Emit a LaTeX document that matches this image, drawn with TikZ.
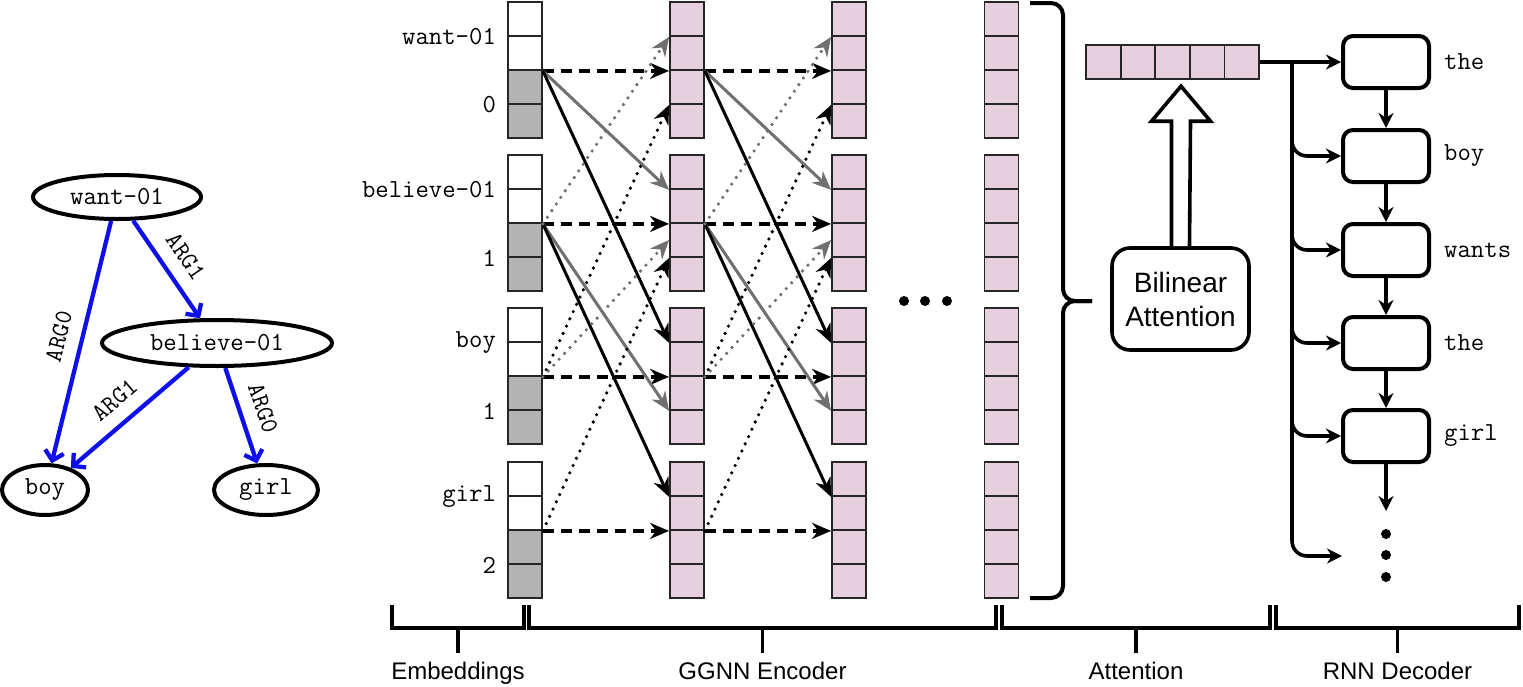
\documentclass[tikz,border=0pt]{standalone}
\usepackage{fontspec}
\setmainfont{Liberation Sans}
\usetikzlibrary{positioning, arrows.meta, shapes.geometric}

\definecolor{cellpink}{RGB}{230,208,222}
\definecolor{cellgray}{RGB}{179,179,179}
\definecolor{argblue}{RGB}{15,15,235}
\definecolor{revgray}{RGB}{112,112,112}

\begin{document}
\begin{tikzpicture}[x=1pt, y=-1pt, >={Stealth[length=19pt,width=16pt]}, on grid]
    \tikzstyle{amr}=[ellipse, draw, line width=4pt, inner sep=0pt, font=\fontsize{26}{30}\selectfont\ttfamily]
    \tikzstyle{rel}=[-{Straight Barb[length=9pt,width=19pt]}, draw=argblue, line width=4.3pt]
    \tikzstyle{arg}=[sloped, above, inner xsep=1pt, inner ysep=13pt, text=black, font=\fontsize{25}{29}\selectfont\ttfamily]
    \tikzstyle{cell}=[draw=black!85, line width=1.8pt, minimum width=34pt, minimum height=34pt, inner sep=0pt, fill=cellpink]
    \tikzstyle{word}=[inner sep=2pt, font=\fontsize{26}{30}\selectfont\ttfamily]
    \tikzstyle{selfedge}=[->, line width=3.3pt, dash pattern=on 11pt off 7pt]
    \tikzstyle{fwdzero}=[->, line width=3pt]
    \tikzstyle{fwdone}=[->, line width=3pt, revgray]
    \tikzstyle{revzero}=[->, line width=3.6pt, line cap=round, dash pattern=on 0pt off 8pt]
    \tikzstyle{revone}=[revzero, revgray]
    \tikzstyle{dec}=[draw, line width=4pt, rounded corners=10pt, minimum width=86pt, minimum height=52pt]
    \tikzstyle{decedge}=[-{Stealth[length=15pt,width=15pt]}, line width=3.6pt]
    \tikzstyle{bracket}=[line width=3.6pt]
    \tikzstyle{partlabel}=[anchor=base, font=\fontsize{24}{29}\selectfont]

    \useasboundingbox (0,0) rectangle (1523,686);

    % AMR graph
    \node[amr, minimum width=168pt, minimum height=44pt] (want) at (117,197) {want-01};
    \node[amr, minimum width=230pt, minimum height=46pt, below right=146pt and 100pt of want] (believe) {believe-01};
    \node[amr, minimum width=86pt, minimum height=50pt, below left=147pt and 172pt of believe] (boy) {boy};
    \node[amr, minimum width=104pt, minimum height=50pt, below right=147pt and 49pt of believe] (girl) {girl};

    \path[rel]
    (want) edge node[arg] {ARG0} (boy)
    (want) edge node[arg] {ARG1} (believe)
    (believe) edge node[arg] {ARG1} (boy)
    (believe) edge node[arg] {ARG0} (girl);

    % embeddings
    \foreach \b/\y in {1/2, 2/155, 3/308, 4/462}
        \foreach \c/\f in {1/white, 2/white, 3/cellgray, 4/cellgray}
            \node[cell, fill=\f] (e\b-\c) at (525, \y+34*\c-17) {};
    \foreach \b/\w/\i in {1/want-01/0, 2/believe-01/1, 3/boy/1, 4/girl/2} {
        \node[word, anchor=east] (w\b) at ([xshift=-9pt]e\b-1.south west) {\w};
        \node[word, anchor=east] (i\b) at ([xshift=-9pt]e\b-3.south west) {\i};
    }

    % GGNN layers
    \foreach \col/\x in {g/687, h/849, z/1001.5}
        \foreach \b/\y in {1/2, 2/155, 3/308, 4/462}
            \foreach \c in {1,...,4}
                \node[cell] (\col\b-\c) at (\x, \y+34*\c-17) {};

    \foreach \s/\t in {e/g, g/h} {
        \foreach \b in {1,...,4}
            \draw[selfedge] (\s\b-2.south east) -- (\t\b-2.south west);
        \draw[fwdone] (\s1-2.south east) -- (\t2-1.south west);
        \draw[fwdzero] (\s1-2.south east) -- (\t3-1.south west);
        \draw[fwdone] (\s2-2.south east) -- (\t3-3.south west);
        \draw[fwdzero] (\s2-2.south east) -- (\t4-1.south west);
        \draw[revone] (\s2-2.south east) -- (\t1-1.south west);
        \draw[revzero] (\s3-2.south east) -- (\t1-3.south west);
        \draw[revone] (\s3-2.south east) -- (\t2-3.west);
        \draw[revzero] (\s4-2.south east) -- (\t2-3.south west);
    }
    \foreach \x in {904, 925, 947} \fill (\x, 301) circle (5pt);

    % brace
    \draw[line width=4pt, rounded corners=12pt] (1030,3) -- (1063,3) -- (1063,301) -- (1092,301);
    \draw[line width=4pt, rounded corners=12pt] (1030,598) -- (1063,598) -- (1063,301) -- (1092,301);

    % attention
    \foreach \i in {1,...,5}
        \node[cell, minimum width=34.6pt] (v\i) at (1068.7+34.6*\i, 62) {};
    \node[draw, line width=3.6pt, rounded corners=18pt, minimum width=137pt, minimum height=102pt, align=center, font=\fontsize{28}{34}\selectfont] (att) at (1180.5, 299) {Bilinear\\Attention};
    \draw[line width=3.6pt, fill=white] ([xshift=-9pt]att.north) -- ++(0,-125) -- ++(-20,0) -- ++(29.5,-35) -- ++(29.5,35) -- ++(-20,0) -- ([xshift=9pt]att.north);

    % decoder
    \node[dec] (d1) at (1386, 62) {};
    \node[dec, below=94pt of d1] (d2) {};
    \node[dec, below=94pt of d2] (d3) {};
    \node[dec, below=93pt of d3] (d4) {};
    \node[dec, below=93pt of d4] (d5) {};
    \foreach \d/\w in {d1/the, d2/boy, d3/wants, d4/the, d5/girl}
        \node[word, anchor=west] (w\d) at ([xshift=11pt]\d.east) {\w};

    \coordinate (split) at (1292, 62);
    \coordinate (dmore) at (1342, 556);
    \coordinate (dnext) at (1386, 511);
    \draw[decedge] (v5.east) -- (d1.west);
    \foreach \d in {d2, d3, d4, d5}
        \draw[decedge, rounded corners=15pt] (split) |- (\d.west);
    \draw[decedge, rounded corners=15pt] (split) |- (dmore);
    \foreach \a/\b in {d1/d2, d2/d3, d3/d4, d4/d5}
        \draw[decedge] (\a) -- (\b);
    \draw[decedge] (d5) -- (dnext);
    \foreach \y in {534, 555, 577} \fill (1386, \y) circle (5pt);

    % parts
    \foreach \l/\r/\t [count=\n] in {392/524/Embeddings, 529/996/GGNN Encoder, 1002/1270/Attention, 1276/1519/RNN Decoder} {
        \draw[bracket] (\l,605) |- (\r,628) -- (\r,605);
        \draw[bracket] ({(\l+\r)/2},628) -- ({(\l+\r)/2},653);
        \node[partlabel] (part\n) at ({(\l+\r)/2},679) {\t};
    }
\end{tikzpicture}
\end{document}
